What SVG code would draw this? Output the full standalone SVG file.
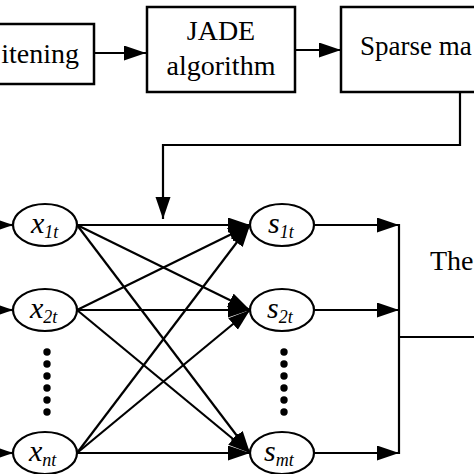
<svg xmlns="http://www.w3.org/2000/svg" width="474" height="474" viewBox="0 0 474 474">
<defs>
<style>
.box{fill:#fff;stroke:#000;stroke-width:2.5}
.node{fill:#fff;stroke:#000;stroke-width:2.2}
.t{font-family:"Liberation Serif","Times New Roman",serif;font-size:28px;fill:#000}
.lbl{font-family:"Liberation Serif","Times New Roman",serif;font-style:italic;font-size:30px;fill:#000}
.sub{font-size:18px}
.ln{fill:none;stroke:#000;stroke-width:2.2}
.dot{fill:#000}
</style>
<marker id="ah" markerUnits="userSpaceOnUse" markerWidth="23" markerHeight="16" refX="22" refY="7.5" orient="auto">
<path d="M0,0 L22,7.5 L0,15 z" fill="#000"/>
</marker>
</defs>
<rect width="474" height="474" fill="#fff"/>
<g id="connectors">
<line class="ln" x1="94" y1="53" x2="146" y2="53" marker-end="url(#ah)"/>
<line class="ln" x1="295" y1="50" x2="341" y2="50" marker-end="url(#ah)"/>
<polyline class="ln" points="460,92 460,145 163,145 163,219" marker-end="url(#ah)"/>
<line class="ln" x1="-10" y1="225" x2="13" y2="225" marker-end="url(#ah)"/>
<line class="ln" x1="-10" y1="310" x2="13" y2="310" marker-end="url(#ah)"/>
<line class="ln" x1="-10" y1="453" x2="13" y2="453" marker-end="url(#ah)"/>
<line class="ln" x1="77" y1="225" x2="250" y2="225" marker-end="url(#ah)"/>
<line class="ln" x1="77" y1="225" x2="250" y2="310" marker-end="url(#ah)"/>
<line class="ln" x1="77" y1="225" x2="250" y2="453" marker-end="url(#ah)"/>
<line class="ln" x1="77" y1="310" x2="250" y2="225" marker-end="url(#ah)"/>
<line class="ln" x1="77" y1="310" x2="250" y2="310" marker-end="url(#ah)"/>
<line class="ln" x1="77" y1="310" x2="250" y2="453" marker-end="url(#ah)"/>
<line class="ln" x1="77" y1="453" x2="250" y2="225" marker-end="url(#ah)"/>
<line class="ln" x1="77" y1="453" x2="250" y2="310" marker-end="url(#ah)"/>
<line class="ln" x1="77" y1="453" x2="250" y2="453" marker-end="url(#ah)"/>
<line class="ln" x1="314" y1="225" x2="399" y2="225" marker-end="url(#ah)"/>
<line class="ln" x1="314" y1="310" x2="399" y2="310" marker-end="url(#ah)"/>
<line class="ln" x1="314" y1="453" x2="399" y2="453" marker-end="url(#ah)"/>
<line class="ln" x1="399" y1="224" x2="399" y2="454"/>
<line class="ln" x1="399" y1="337" x2="480" y2="337"/>
</g>
<g id="whitening">
<rect class="box" x="-20" y="24" width="114" height="60"/>
<text class="t" x="79" y="63" text-anchor="end">itening</text>
</g>
<g id="jade">
<rect class="box" x="147" y="7" width="148" height="85"/>
<text class="t" x="221" y="40" text-anchor="middle">JADE</text>
<text class="t" x="221" y="75" text-anchor="middle">algorithm</text>
</g>
<g id="sparse">
<rect class="box" x="341" y="7" width="150" height="85"/>
<text class="t" x="360" y="55" style="font-size:27px">Sparse ma</text>
</g>
<g id="x1t">
<ellipse class="node" cx="45" cy="225" rx="32" ry="21"/>
<text class="lbl" x="31" y="233">x<tspan class="sub" dy="5">1t</tspan></text>
</g>
<g id="x2t">
<ellipse class="node" cx="45" cy="310" rx="32" ry="21"/>
<text class="lbl" x="30" y="318">x<tspan class="sub" dy="5">2t</tspan></text>
</g>
<g id="xdots">
<circle class="dot" cx="47" cy="352" r="3.7"/>
<circle class="dot" cx="47" cy="364" r="3.7"/>
<circle class="dot" cx="47" cy="376" r="3.7"/>
<circle class="dot" cx="47" cy="388" r="3.7"/>
<circle class="dot" cx="47" cy="400" r="3.7"/>
<circle class="dot" cx="47" cy="412" r="3.7"/>
</g>
<g id="xnt">
<ellipse class="node" cx="45" cy="453" rx="32" ry="21"/>
<text class="lbl" x="29" y="461">x<tspan class="sub" dy="5">nt</tspan></text>
</g>
<g id="s1t">
<ellipse class="node" cx="282" cy="225" rx="32" ry="21"/>
<text class="lbl" x="268" y="233">s<tspan class="sub" dy="5">1t</tspan></text>
</g>
<g id="s2t">
<ellipse class="node" cx="282" cy="310" rx="32" ry="21"/>
<text class="lbl" x="267" y="318">s<tspan class="sub" dy="5">2t</tspan></text>
</g>
<g id="sdots">
<circle class="dot" cx="284" cy="352" r="3.7"/>
<circle class="dot" cx="284" cy="364" r="3.7"/>
<circle class="dot" cx="284" cy="376" r="3.7"/>
<circle class="dot" cx="284" cy="388" r="3.7"/>
<circle class="dot" cx="284" cy="400" r="3.7"/>
<circle class="dot" cx="284" cy="412" r="3.7"/>
</g>
<g id="smt">
<ellipse class="node" cx="282" cy="453" rx="32" ry="21"/>
<text class="lbl" x="264" y="461">s<tspan class="sub" dy="5">mt</tspan></text>
</g>
<g id="the">
<text class="t" x="430" y="270">The</text>
</g>
</svg>
